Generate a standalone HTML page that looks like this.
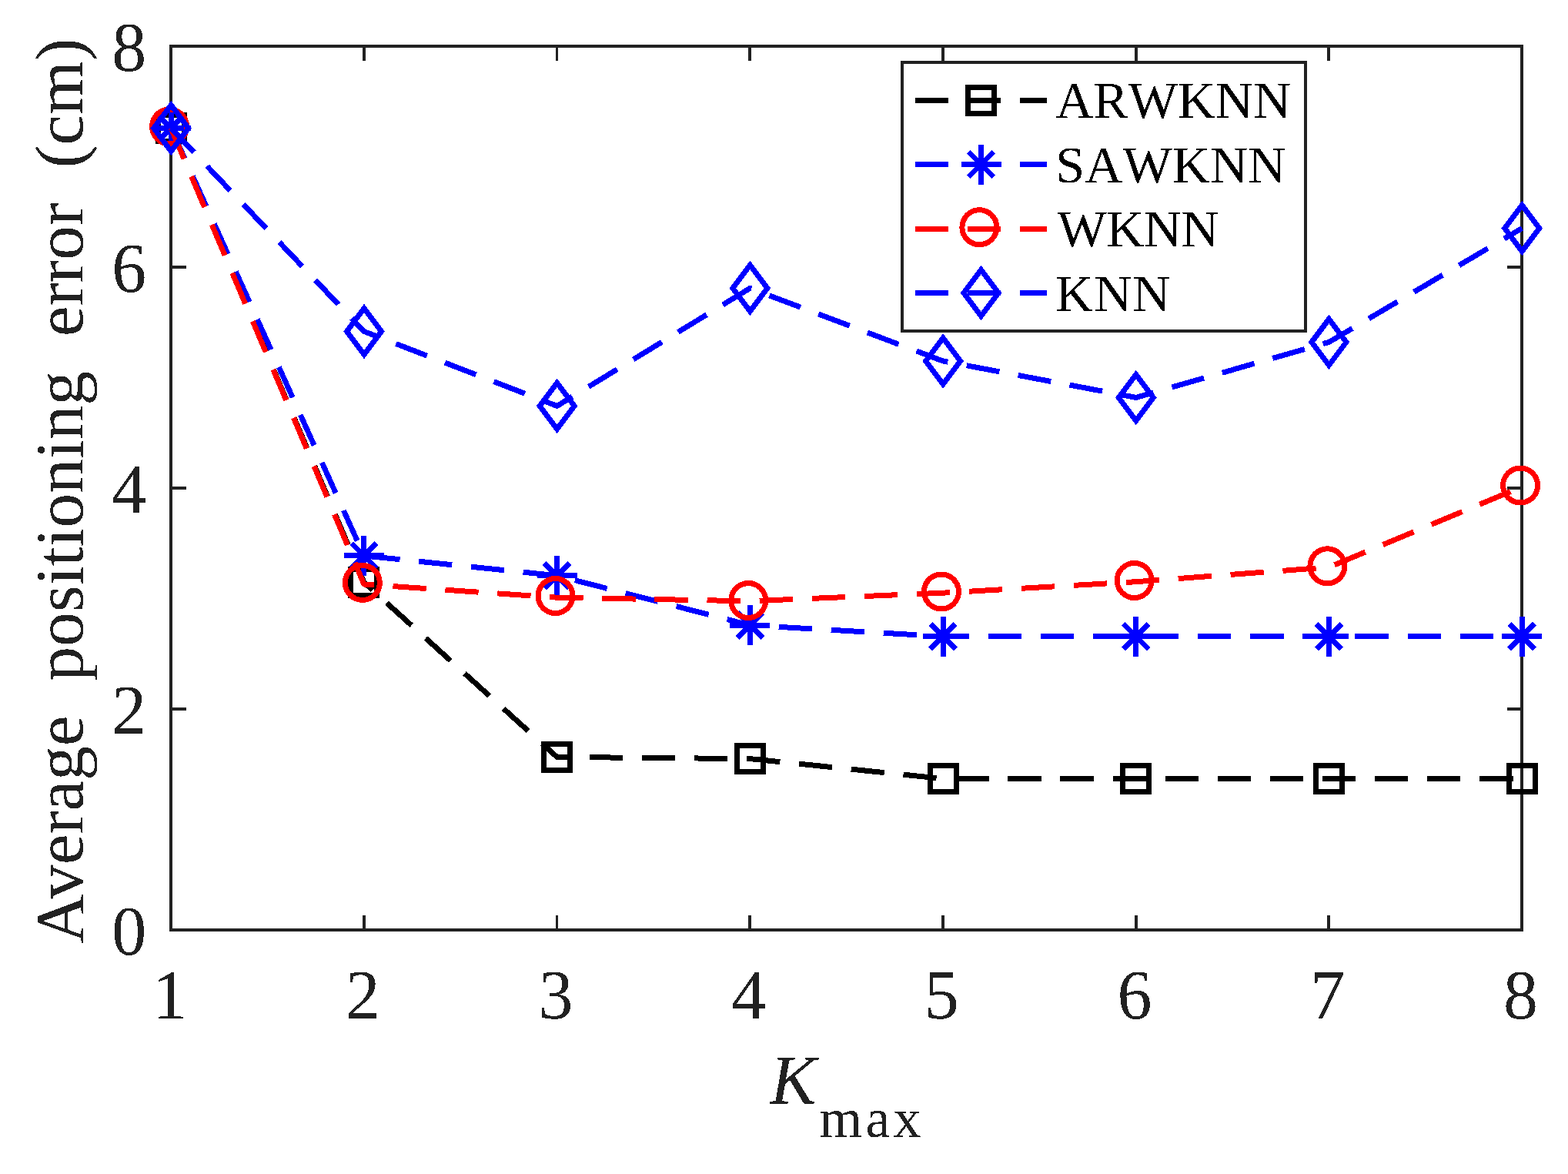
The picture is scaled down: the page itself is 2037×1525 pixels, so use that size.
<!DOCTYPE html>
<html lang="en"><head><meta charset="utf-8"><title>Average positioning error vs Kmax</title>
<style>
html,body{margin:0;padding:0;background:#fff;}
body{width:2037px;height:1525px;overflow:hidden;}
svg{display:block;}
text{filter:url(#bin);font-family:"Liberation Serif","DejaVu Serif",serif;font-kerning:none;white-space:pre;}
.tk{font-size:90px;fill:#212121;}
.lg{font-size:68px;fill:#000;}
</style></head><body>
<svg width="2037" height="1525" viewBox="0 0 2037 1525">
<rect x="0" y="0" width="2037" height="1525" fill="#fff"/>
<defs><filter id="bin" x="-5%" y="-5%" width="110%" height="110%" color-interpolation-filters="sRGB"><feComponentTransfer><feFuncA type="discrete" tableValues="0 1"/></feComponentTransfer></filter></defs>
<g id="axes" fill="#212121" shape-rendering="crispEdges">
<rect x="220" y="58" width="1759" height="4"/>
<rect x="220" y="1206" width="1759" height="4"/>
<rect x="220" y="58" width="4" height="1152"/>
<rect x="1975" y="58" width="4" height="1152"/>
<rect x="471" y="58" width="4" height="21"/>
<rect x="471" y="1189" width="4" height="21"/>
<rect x="722" y="58" width="3" height="21"/>
<rect x="722" y="1189" width="3" height="21"/>
<rect x="972" y="58" width="4" height="21"/>
<rect x="972" y="1189" width="4" height="21"/>
<rect x="1223" y="58" width="4" height="21"/>
<rect x="1223" y="1189" width="4" height="21"/>
<rect x="1474" y="58" width="4" height="21"/>
<rect x="1474" y="1189" width="4" height="21"/>
<rect x="1724" y="58" width="4" height="21"/>
<rect x="1724" y="1189" width="4" height="21"/>
<rect x="220" y="919" width="22" height="4"/>
<rect x="1958" y="919" width="21" height="4"/>
<rect x="220" y="632" width="22" height="4"/>
<rect x="1958" y="632" width="21" height="4"/>
<rect x="220" y="345" width="22" height="4"/>
<rect x="1958" y="345" width="21" height="4"/>
</g>
<g id="xticks" class="tk" text-anchor="middle">
<text x="220.5" y="1323">1</text>
<text x="471.21" y="1323">2</text>
<text x="721.93" y="1323">3</text>
<text x="972.64" y="1323">4</text>
<text x="1223.36" y="1323">5</text>
<text x="1474.07" y="1323">6</text>
<text x="1724.79" y="1323">7</text>
<text x="1975.5" y="1323">8</text>
</g>
<g id="yticks" class="tk" text-anchor="end">
<text x="190.3" y="1239.7">0</text>
<text x="190.3" y="952.7">2</text>
<text x="190.3" y="665.7">4</text>
<text x="190.3" y="378.7">6</text>
<text x="190.3" y="91.7">8</text>
</g>
<text id="ylabel" class="tk" style="font-size:89.5px;font-kerning:normal" transform="translate(107.4 1225.8) rotate(-90)" x="0" y="0">Average  positioning  error  (cm)</text>
<text id="xlabel" class="tk" x="1000.5" y="1434"><tspan font-style="italic">K</tspan></text>
<text id="xlabel-sub" class="tk" style="font-size:72px" x="1064.3 1124.5 1160.5" y="1477">max</text>
<g id="series-arwknn" shape-rendering="crispEdges">
<polyline points="222.2,166.5 472.91,756.5 723.63,983.4 974.34,985.6 1225.06,1011.5 1475.77,1011.5 1726.48,1011.5 1977.2,1011.5" fill="none" stroke="#000000" stroke-width="7" stroke-linejoin="round" stroke-dasharray="43.3 24.8"/>
<path d="M202 146h41v41h-41zM209 153v27h27v-27z" fill="#000000" fill-rule="evenodd"/>
<path d="M452 736h41v41h-41zM459 743v27h27v-27z" fill="#000000" fill-rule="evenodd"/>
<path d="M703 963h41v41h-41zM710 970v27h27v-27z" fill="#000000" fill-rule="evenodd"/>
<path d="M954 965h41v41h-41zM961 972v27h27v-27z" fill="#000000" fill-rule="evenodd"/>
<path d="M1205 991h41v41h-41zM1212 998v27h27v-27z" fill="#000000" fill-rule="evenodd"/>
<path d="M1455 991h41v41h-41zM1462 998v27h27v-27z" fill="#000000" fill-rule="evenodd"/>
<path d="M1706 991h41v41h-41zM1713 998v27h27v-27z" fill="#000000" fill-rule="evenodd"/>
<path d="M1957 991h41v41h-41zM1964 998v27h27v-27z" fill="#000000" fill-rule="evenodd"/>
</g>
<g id="series-sawknn" shape-rendering="crispEdges">
<polyline points="222.2,166.5 472.91,721.9 723.63,747.75 974.34,812.2 1225.06,826.75 1475.77,826.75 1726.48,826.75 1977.2,826.75" fill="none" stroke="#0000ff" stroke-width="7" stroke-linejoin="round" stroke-dasharray="43.3 24.8"/>
<path d="M219 141h7v52h-7zM196 163h52v7h-52z" fill="#0000ff"/><path d="M205.9 150.2L238.5 182.8M205.9 182.8L238.5 150.2" fill="none" stroke="#0000ff" stroke-width="7"/>
<path d="M469 696h7v52h-7zM447 718h52v7h-52z" fill="#0000ff"/><path d="M456.61 705.6L489.21 738.2M456.61 738.2L489.21 705.6" fill="none" stroke="#0000ff" stroke-width="7"/>
<path d="M720 722h7v52h-7zM698 744h52v7h-52z" fill="#0000ff"/><path d="M707.33 731.45L739.93 764.05M707.33 764.05L739.93 731.45" fill="none" stroke="#0000ff" stroke-width="7"/>
<path d="M971 786h7v52h-7zM948 809h52v7h-52z" fill="#0000ff"/><path d="M958.04 795.9L990.64 828.5M958.04 828.5L990.64 795.9" fill="none" stroke="#0000ff" stroke-width="7"/>
<path d="M1222 801h7v52h-7zM1199 823h52v7h-52z" fill="#0000ff"/><path d="M1208.76 810.45L1241.36 843.05M1208.76 843.05L1241.36 810.45" fill="none" stroke="#0000ff" stroke-width="7"/>
<path d="M1472 801h7v52h-7zM1450 823h52v7h-52z" fill="#0000ff"/><path d="M1459.47 810.45L1492.07 843.05M1459.47 843.05L1492.07 810.45" fill="none" stroke="#0000ff" stroke-width="7"/>
<path d="M1723 801h7v52h-7zM1700 823h52v7h-52z" fill="#0000ff"/><path d="M1710.18 810.45L1742.78 843.05M1710.18 843.05L1742.78 810.45" fill="none" stroke="#0000ff" stroke-width="7"/>
<path d="M1974 801h7v52h-7zM1951 823h52v7h-52z" fill="#0000ff"/><path d="M1960.9 810.45L1993.5 843.05M1960.9 843.05L1993.5 810.45" fill="none" stroke="#0000ff" stroke-width="7"/>
</g>
<g id="series-wknn" shape-rendering="crispEdges">
<polyline points="222.2,166.5 472.91,759 723.63,776.2 974.34,780.8 1225.06,770.2 1475.77,755.7 1726.48,736.8 1977.2,632.3" fill="none" stroke="#ff0000" stroke-width="7" stroke-linejoin="round" stroke-dasharray="43.3 24.8"/>
<circle cx="220.1" cy="164.4" r="22.5" fill="none" stroke="#ff0000" stroke-width="7"/>
<circle cx="470.81" cy="756.9" r="22.5" fill="none" stroke="#ff0000" stroke-width="7"/>
<circle cx="721.53" cy="774" r="22.5" fill="none" stroke="#ff0000" stroke-width="7"/>
<circle cx="972.24" cy="780" r="22.5" fill="none" stroke="#ff0000" stroke-width="7"/>
<circle cx="1222.96" cy="768.5" r="22.5" fill="none" stroke="#ff0000" stroke-width="7"/>
<circle cx="1473.67" cy="754" r="22.5" fill="none" stroke="#ff0000" stroke-width="7"/>
<circle cx="1724.38" cy="735.3" r="22.5" fill="none" stroke="#ff0000" stroke-width="7"/>
<circle cx="1975.1" cy="630.5" r="22.5" fill="none" stroke="#ff0000" stroke-width="7"/>
</g>
<g id="series-knn" shape-rendering="crispEdges">
<polyline points="222.2,166.5 472.91,430.5 723.63,527.4 974.34,374.4 1225.06,469 1475.77,516.4 1726.48,444.4 1977.2,296.5" fill="none" stroke="#0000ff" stroke-width="7" stroke-linejoin="round" stroke-dasharray="43.3 24.8"/>
<path d="M222.2 136.5L244.7 166.5L222.2 196.5L199.7 166.5Z" fill="none" stroke="#0000ff" stroke-width="7" stroke-linejoin="miter" stroke-miterlimit="10"/>
<path d="M472.91 400.5L495.41 430.5L472.91 460.5L450.41 430.5Z" fill="none" stroke="#0000ff" stroke-width="7" stroke-linejoin="miter" stroke-miterlimit="10"/>
<path d="M723.63 497.4L746.13 527.4L723.63 557.4L701.13 527.4Z" fill="none" stroke="#0000ff" stroke-width="7" stroke-linejoin="miter" stroke-miterlimit="10"/>
<path d="M974.34 344.4L996.84 374.4L974.34 404.4L951.84 374.4Z" fill="none" stroke="#0000ff" stroke-width="7" stroke-linejoin="miter" stroke-miterlimit="10"/>
<path d="M1225.06 439L1247.56 469L1225.06 499L1202.56 469Z" fill="none" stroke="#0000ff" stroke-width="7" stroke-linejoin="miter" stroke-miterlimit="10"/>
<path d="M1475.77 486.4L1498.27 516.4L1475.77 546.4L1453.27 516.4Z" fill="none" stroke="#0000ff" stroke-width="7" stroke-linejoin="miter" stroke-miterlimit="10"/>
<path d="M1726.48 414.4L1748.98 444.4L1726.48 474.4L1703.98 444.4Z" fill="none" stroke="#0000ff" stroke-width="7" stroke-linejoin="miter" stroke-miterlimit="10"/>
<path d="M1977.2 266.5L1999.7 296.5L1977.2 326.5L1954.7 296.5Z" fill="none" stroke="#0000ff" stroke-width="7" stroke-linejoin="miter" stroke-miterlimit="10"/>
</g>
<g id="legend">
<rect x="1172" y="81" width="524" height="349" fill="#fff" stroke="#212121" stroke-width="4" shape-rendering="crispEdges"/>
<line x1="1188.9" y1="130.5" x2="1360.1" y2="130.5" stroke="#000000" stroke-width="7" stroke-dasharray="43.3 24.8" shape-rendering="crispEdges"/>
<g shape-rendering="crispEdges"><path d="M1254 110h41v41h-41zM1261 117v27h27v-27z" fill="#000000" fill-rule="evenodd"/></g>
<text class="lg" x="1371.3" y="153.1" textLength="305.7" lengthAdjust="spacing">ARWKNN</text>
<line x1="1188.9" y1="213.5" x2="1360.1" y2="213.5" stroke="#0000ff" stroke-width="7" stroke-dasharray="43.3 24.8" shape-rendering="crispEdges"/>
<g shape-rendering="crispEdges"><path d="M1271 188h7v52h-7zM1249 210h52v7h-52z" fill="#0000ff"/><path d="M1258.2 197.2L1290.8 229.8M1258.2 229.8L1290.8 197.2" fill="none" stroke="#0000ff" stroke-width="7"/></g>
<text class="lg" x="1371.35" y="236.6" textLength="299" lengthAdjust="spacing">SAWKNN</text>
<line x1="1188.9" y1="297" x2="1360.1" y2="297" stroke="#ff0000" stroke-width="7" stroke-dasharray="43.3 24.8" shape-rendering="crispEdges"/>
<g shape-rendering="crispEdges"><circle cx="1272.4" cy="295.2" r="22.5" fill="none" stroke="#ff0000" stroke-width="7"/></g>
<text class="lg" x="1373.6" y="320.1" textLength="209.9" lengthAdjust="spacing">WKNN</text>
<line x1="1188.9" y1="380.5" x2="1360.1" y2="380.5" stroke="#0000ff" stroke-width="7" stroke-dasharray="43.3 24.8" shape-rendering="crispEdges"/>
<g shape-rendering="crispEdges"><path d="M1274.5 350.5L1297 380.5L1274.5 410.5L1252 380.5Z" fill="none" stroke="#0000ff" stroke-width="7" stroke-linejoin="miter" stroke-miterlimit="10"/></g>
<text class="lg" x="1371" y="403.9" textLength="149.4" lengthAdjust="spacing">KNN</text>
</g>
</svg>
</body></html>
